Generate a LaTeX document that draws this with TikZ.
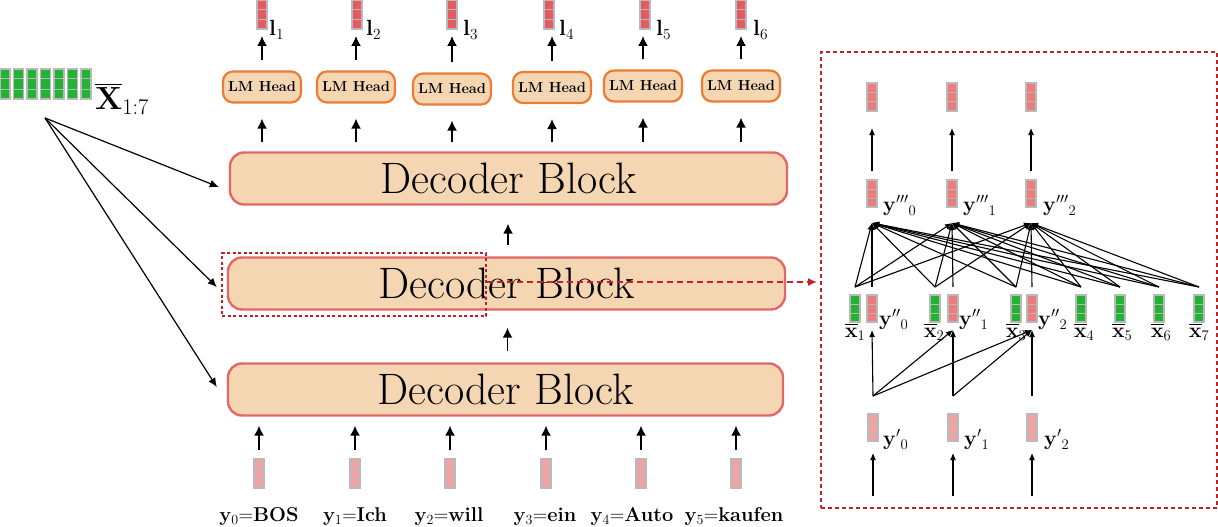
\RequirePackage{fix-cm}
\documentclass[tikz,border=0pt]{standalone}
\usepackage{exscale}
\usetikzlibrary{arrows.meta,calc}
\definecolor{peach}{RGB}{245,214,178}
\definecolor{blockred}{RGB}{226,104,104}
\definecolor{headorange}{RGB}{234,125,50}
\definecolor{dred}{RGB}{196,32,38}
\definecolor{vred}{RGB}{228,92,98}
\definecolor{vmid}{RGB}{236,124,126}
\definecolor{vpink}{RGB}{241,162,164}
\definecolor{vgreen}{RGB}{34,178,52}
\definecolor{vgray}{RGB}{185,185,185}
\newcommand{\labfont}{\fontsize{20}{22}\selectfont}
\newcommand{\panfont}{\fontsize{21}{23}\selectfont}
\tikzset{
  vec/.style={rectangle, inner sep=0pt, outer sep=0pt, minimum width=10pt, minimum height=28pt,
    draw=vgray, line width=1.2pt,
    path picture={\draw[vgray,line width=1pt]
      ($(path picture bounding box.north west)!0.3333!(path picture bounding box.south west)$) --
      ($(path picture bounding box.north east)!0.3333!(path picture bounding box.south east)$)
      ($(path picture bounding box.north west)!0.6667!(path picture bounding box.south west)$) --
      ($(path picture bounding box.north east)!0.6667!(path picture bounding box.south east)$);}},
  vlogit/.style={vec, fill=vred},
  vhid/.style={vec, fill=vmid},
  vin/.style={vec, fill=vpink},
  venc/.style={vec, fill=vgreen},
  decblock/.style={rectangle, rounded corners=14pt, draw=blockred, fill=peach, line width=2.4pt,
    minimum width=555pt, minimum height=52pt, inner sep=0pt, font=\fontsize{44}{46}\selectfont},
  lmhead/.style={rectangle, rounded corners=10pt, draw=headorange, fill=peach, line width=2.2pt,
    minimum width=78pt, minimum height=31pt, inner sep=0pt, font=\fontsize{14.5}{16}\selectfont\bfseries},
  lab/.style={inner sep=0pt, font=\labfont},
  plab/.style={inner sep=0pt, anchor=base west, font=\panfont},
  arr/.style={-{Latex[length=10pt,width=10pt]}, line width=1.5pt},
  larr/.style={-{Latex[length=9pt,width=8pt]}, line width=1.2pt},
  sarr/.style={-{Latex[length=7pt,width=6pt]}, line width=1.1pt},
  zoomdash/.style={draw=dred, line width=1.6pt, dash pattern=on 3pt off 2.5pt},
  bigdash/.style={draw=dred, line width=2pt, dash pattern=on 4pt off 3pt},
}
\begin{document}
\begin{tikzpicture}[x=1pt,y=-1pt]
\useasboundingbox (0,0) rectangle (1218,527);

% encoder states
\foreach \j/\x in {1/5,2/18.5,3/32,4/45.5,5/59,6/72.5,7/86}
  \node[venc, minimum height=30pt] (enc\j) at (\x,84) {};
\node[inner sep=0pt, anchor=base west, font=\fontsize{32}{34}\selectfont] (xlab) at (95,110) {$\overline{\mathbf{X}}_{1:7}$};
\coordinate (br) at (45,118);

% decoder blocks
\node[decblock, minimum width=557pt] (dec3) at (508.5,178.5) {Decoder Block};
\node[decblock, minimum width=557pt] (dec2) at (506.5,283.5) {Decoder Block};
\node[decblock] (dec1) at (505.5,389.5) {Decoder Block};

% LM heads and logits
\foreach \i/\x/\y in {1/262/87,2/356/87,3/452/89,4/552/87.5,5/643/86,6/741/86}
  \node[lmhead] (h\i) at (\x,\y) {LM Head};
\foreach \i/\x in {1/262,2/357,3/452,4/549,5/645,6/741}
  \node[vlogit, minimum height=29pt] (l\i) at (\x,14.5) {};
\foreach \i/\x in {1/269,2/366,3/463,4/559,5/656,6/753}
  \node[inner sep=0pt, anchor=base west, font=\fontsize{22}{24}\selectfont] (ll\i) at (\x,36) {$\mathbf{l}_{\i}$};

% inputs
\foreach \i/\x in {0/259,1/355,2/450,3/546,4/641,5/736}
  \node[vin, minimum height=29pt] (v\i) at (\x,473.5) {};
\node[lab, anchor=base] (t0) at (259,521) {$\mathbf{y}_0$=\textbf{BOS}};
\node[lab, anchor=base] (t1) at (355,521) {$\mathbf{y}_1$=\textbf{Ich}};
\node[lab, anchor=base] (t2) at (449,521) {$\mathbf{y}_2$=\textbf{will}};
\node[lab, anchor=base] (t3) at (545,521) {$\mathbf{y}_3$=\textbf{ein}};
\node[lab, anchor=base] (t4) at (632,521) {$\mathbf{y}_4$=\textbf{Auto}};
\node[lab, anchor=base] (t5) at (734,521) {$\mathbf{y}_5$=\textbf{kaufen}};

% main arrows
\foreach \i in {1,...,6} {
  \draw[arr, shorten <=10pt, shorten >=7pt] (h\i.north) -- (h\i.north |- l\i.south);
  \draw[arr, shorten <=9pt, shorten >=15pt] (h\i.south |- dec3.north) -- (h\i.south);
}
\foreach \i in {0,...,5}
  \draw[arr, shorten <=9pt, shorten >=9pt] (v\i.north) -- (v\i.north |- dec1.south);
\draw[arr, shorten <=11pt, shorten >=17pt] ($(dec1.north)+(2,0)$) -- ($(dec1.north |- dec2.south)+(2,0)$);
\draw[arr, shorten <=11pt, shorten >=18pt] ($(dec2.north)+(1.5,0)$) -- ($(dec2.north |- dec3.south)+(1.5,0)$);

\draw[larr] (br) -- ([shift={(-10,8.5)}]dec3.west);
\draw[larr] (br) -- ([shift={(-10,3.5)}]dec2.west);
\draw[larr] (br) -- ([shift={(-10,-2.5)}]dec1.west);

% zoom box
\node[zoomdash, rectangle, minimum width=264pt, minimum height=63pt, inner sep=0pt] (zbox) at (354,284.5) {};
\node[bigdash, rectangle, minimum width=396pt, minimum height=456pt, inner sep=0pt] (bigbox) at (1019,280) {};
\draw[dred, line width=1.6pt, dash pattern=on 6pt off 4pt, -{Latex[length=9pt,width=8pt]}, shorten >=3pt]
  ($(zbox.east)+(0,-2.5)$) -- ($(zbox.east -| bigbox.west)+(0,-2.5)$);

% right panel
\foreach \i/\x in {0/872,1/952,2/1031} {
  \node[vhid] (top\i) at (\x,97) {};
  \node[vhid, minimum height=27pt] (ppp\i) at (\x,193.5) {};
}
\foreach \i/\x in {0/872,1/953,2/1032}
  \node[vhid, minimum height=27pt] (pp\i) at (\x,308.5) {};
\foreach \j/\x in {1/855,2/935,3/1016,4/1081,5/1120,6/1159,7/1199}
  \node[venc, minimum height=27pt] (xb\j) at (\x,308.5) {};
\foreach \i/\x in {0/873,1/953,2/1032}
  \node[vin, minimum height=27pt] (yp\i) at (\x,427.5) {};

\foreach \i/\x in {0/883,1/963,2/1043}
  \node[plab] (lppp\i) at (\x,211) {${\mathbf{y}'''}_{\i}$};
\foreach \i/\x in {0/879,1/959,2/1038}
  \node[plab] (lpp\i) at (\x,325) {${\mathbf{y}''}_{\i}$};
\foreach \j/\x in {1/845,2/924,3/1006,4/1074,5/1112,6/1151,7/1189}
  \node[plab] (lxb\j) at (\x,337) {$\overline{\mathbf{x}}_{\j}$};
\foreach \i/\x in {0/883,1/964,2/1044}
  \node[plab] (lyp\i) at (\x,445) {${\mathbf{y}'}_{\i}$};

\foreach \j in {1,...,7}
  \foreach \i in {0,1,2}
    \draw[sarr] ([yshift=8pt]xb\j.north) -- ([yshift=-16pt]ppp\i.south);
\foreach \i in {0,1,2} {
  \draw[sarr] ([yshift=8pt]pp\i.north) -- ([yshift=-16pt]ppp\i.south);
  \draw[sarr] ([yshift=9pt]ppp\i.north) -- ([yshift=-17pt]top\i.south);
}
\foreach \i/\k in {0/0,0/1,0/2,1/1,1/2,2/2}
  \draw[sarr] ([yshift=18pt]yp\i.north) -- ([yshift=-8pt]pp\k.south);
\foreach \i/\x in {0/873,1/953,2/1032} {
  \coordinate (in\i) at (\x,496);
  \draw[sarr] (in\i) -- ([yshift=-12pt]yp\i.south);
}
\end{tikzpicture}
\end{document}
